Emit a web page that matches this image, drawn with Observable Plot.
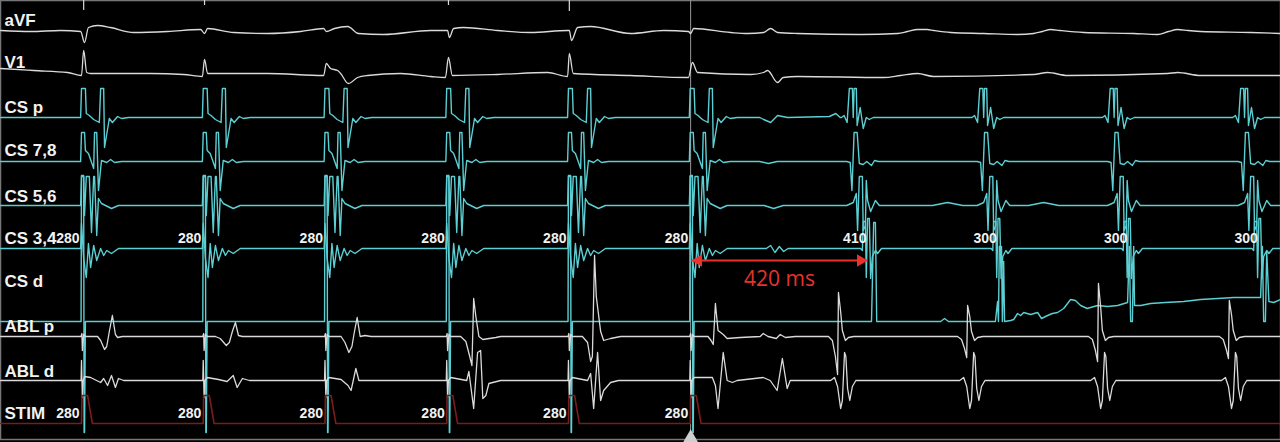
<!DOCTYPE html>
<html><head><meta charset="utf-8">
<script src="https://cdn.jsdelivr.net/npm/d3@7"></script>
<script src="https://cdn.jsdelivr.net/npm/@observablehq/plot@0.6"></script>
<style>html,body{margin:0;padding:0;background:#000;overflow:hidden}</style>
</head><body><div id="chart"></div>
<script>
// ================= DATA (time in ms from first paced beat; amplitudes in display units, up = positive) =================
const channels = ["aVF","V1","CS p","CS 7,8","CS 5,6","CS 3,4","CS d","ABL p","ABL d","STIM"];
const pacedTimes = [0, 280, 560, 840, 1120, 1400];
const spontTimes = [1810, 2110, 2410, 2710];             // CS 3,4 activation of spontaneous beats
const intervalTimes = [0, 280, 560, 840, 1120, 1400, 1810, 2110, 2410, 2710];
const intervalLabels = ["280","280","280","280","280","280","410","300","300","300"];
const stimLabels = ["280","280","280","280","280","280"];
const recordStart = -186, recordEnd = 2758;
const cursorTime = 1401;
const caliperStart = 1403, caliperEnd = 1808, caliperLabel = "420 ms";
const topTickTimes = [5, 283, 844, 1122];
const topTickDepth = [10, 5, 5, 11];

// surface ECG
const aVF = [[-186,1],[-117,0],[-48,1],[-2,0],[7,-11],[16,4],[37,6],[67,4],[120,-1],[198,0],[274,2],[283,-2],[290,3],[350,-1],[428,-2],[504,0],[557,3],[563,0],[582,3],[612,5],[637,-2],[695,-3],[803,1],[842,1],[846,-6],[856,3],[879,4],[957,1],[1033,-1],[1118,1],[1122,1],[1127,-9],[1141,4],[1171,5],[1263,-2],[1339,1],[1396,0],[1401,-2],[1408,3],[1493,-1],[1532,-2],[1569,-1],[1585,3],[1601,-1],[1647,-2],[1792,-3],[1877,-2],[1900,0],[1923,2],[1945,2],[1960,1],[1999,-1],[2075,-2],[2153,-3],[2190,-2],[2210,0],[2229,2],[2250,1],[2305,-1],[2420,-2],[2475,-3],[2500,0],[2521,2],[2545,1],[2574,0],[2689,-1],[2758,-2]];
const V1 = [[-186,5],[-110,3],[-32,1],[0,-2],[5,23],[12,1],[21,0],[159,0],[235,-1],[278,-3],[283,14],[290,0],[428,0],[557,-2],[563,10],[573,5],[589,3],[596,0],[614,-10],[635,-4],[658,-2],[734,0],[803,-3],[837,-4],[844,16],[853,-2],[957,-1],[1072,1],[1118,-3],[1122,20],[1131,0],[1263,-2],[1396,-4],[1405,11],[1417,1],[1539,-1],[1569,1],[1578,3],[1601,-9],[1614,-4],[1647,-3],[1845,-4],[1884,-2],[1923,0],[1960,-3],[2190,-1],[2222,1],[2268,-2],[2498,0],[2521,1],[2574,-2],[2758,-2]];

// coronary sinus complexes: [dt, amplitude]
const csP_paced  = [[-2,0],[0,29],[9,29],[11,4],[18,2],[28,-2],[41,-5],[44,29],[51,29],[53,-30],[64,-1],[71,-5],[83,1],[92,-1],[108,0]];
const cs78_paced = [[-2,0],[0,29],[7,29],[9,11],[16,8],[28,-7],[30,29],[35,29],[39,-29],[46,1],[58,-1],[67,2],[76,-1],[92,0]];
const cs56_paced = [[-2,0],[0,29],[5,29],[7,-10],[11,29],[18,29],[23,-27],[28,29],[30,29],[35,-30],[39,7],[46,2],[69,-3],[85,0]];
const cs34_paced = [[-2,0],[0,25],[5,-10],[11,-29],[16,5],[21,-19],[28,3],[35,-12],[44,0],[51,-7],[58,-2],[69,-5],[85,0]];
const csD_paced  = [[-1,0],[0,146],[5,146],[6,-111],[7,-111],[9,0]];
const csP_spont  = [[-62,0],[-56,2],[-49,-5],[-44,29],[-37,29],[-35,0],[-33,29],[-28,29],[-26,-8],[-19,10],[-12,-11],[-5,0],[2,-2],[11,0]];
const cs78_spont = [[-50,0],[-42,-1],[-38,-29],[-33,29],[-26,29],[-21,-2],[-12,-3],[-4,0],[7,-4],[14,1],[23,0]];
const cs56_spont = [[-50,0],[-35,3],[-28,12],[-25,-25],[-21,29],[-14,29],[-12,-25],[-7,-20],[-5,25],[-2,5],[5,-6],[16,5],[25,0]];
const cs34_spont = [[-18,0],[-14,-2],[-12,27],[-7,27],[-5,-29],[-2,30],[2,30],[5,-30],[9,-8],[16,-2],[21,-5],[30,0]];
const csD_spont  = [[1817,0],[1822,99],[1826,99],[1829,0],[1976,0],[1985,3],[1994,0],[2102,0],[2107,20],[2109,0],[2111,75],[2116,75],[2118,0],[2121,60],[2123,0],[2410,75],[2413,0],[2417,0],[2420,75],[2422,16],[2716,75],[2719,0],[2723,0],[2726,70],[2731,20]];
const csD_wander = [[2137,1],[2144,2],[2153,8],[2160,6],[2167,9],[2183,7],[2199,9],[2208,3],[2222,6],[2233,8],[2245,9],[2259,13],[2275,22],[2286,21],[2298,16],[2313,13],[2337,16],[2360,15],[2383,16],[2406,19],[2436,16],[2459,18],[2493,19],[2535,20],[2574,22],[2613,23],[2650,24],[2689,24],[2712,24],[2742,19],[2758,22]];
const csP_wander  = [[1560,0],[1569,-2],[1585,-5],[1601,2],[1624,0],[1720,1],[1735,4],[1745,0]];
const cs78_wander = [[1560,0],[1580,-2],[1600,0]];
const cs56_wander = [[1570,0],[1592,-3],[1614,0],[1957,0],[1992,3],[2027,0],[2178,0],[2213,3],[2248,0]];
const cs34_wander = [[1575,0],[1585,3],[1595,-4],[1605,2],[1615,-3],[1625,0]];

// ablation catheter
const ablP_artifact = [[-1,0],[1,3],[2,-14],[5,2],[9,0]];
const ablD_artifact = [[-1,0],[0,20],[2,-17],[4,0]];
const ablP_paced = [
  [[37,0],[44,-4],[53,-13],[58,-10],[64,5],[71,21],[78,2],[83,-1],[94,0]],
  [[28,0],[39,-2],[53,-9],[60,-6],[67,5],[74,14],[81,1],[90,0]],
  [[37,0],[46,-6],[55,-16],[62,-10],[67,3],[74,19],[81,0],[92,1],[106,0]],
  [[32,0],[44,-5],[53,-20],[58,-29],[62,38],[67,20],[74,0],[83,-3],[113,-1],[124,0]],
  [[32,0],[44,-6],[51,-25],[55,-20],[60,81],[64,40],[74,5],[81,-4],[97,-2],[120,0]],
  [[41,0],[48,-4],[53,-8],[58,33],[64,6],[76,2],[85,-2],[115,-1],[161,0],[168,3],[179,0],[198,-2],[207,2],[219,-1],[242,0]]
];
const ablD_paced = [
  [[7,4],[21,3],[44,-2],[51,2],[60,-5],[69,5],[78,-7],[85,2],[97,0]],
  [[9,3],[35,1],[55,-1],[69,5],[78,-7],[90,2],[106,0]],
  [[9,3],[37,1],[53,-5],[60,-10],[71,12],[78,0],[92,0]],
  [[9,3],[46,0],[51,9],[62,-28],[71,28],[78,30],[83,-18],[90,-15],[97,-3],[124,0]],
  [[9,3],[44,0],[51,7],[58,-28],[67,28],[74,-20],[81,-10],[97,-2],[115,0]],
  [[9,3],[51,3],[58,-5],[64,-28],[76,28],[85,0],[97,-2],[108,0],[168,3],[184,0],[200,-10],[212,22],[223,-8],[230,0]]
];
const ablSpikeTimes = [1741, 2038, 2339, 2640];
const ablP_spont = [
  [[-23,0],[-14,-4],[-7,-20],[-2,-38],[0,44],[5,25],[9,6],[16,-4],[23,-1],[35,0]],
  [[-23,0],[-14,-3],[-7,-12],[-2,-21],[0,31],[5,20],[9,5],[16,-4],[23,-1],[35,0]],
  [[-23,0],[-14,-3],[-7,-14],[-2,-25],[0,53],[5,30],[9,6],[16,-4],[23,-1],[35,0]],
  [[-23,0],[-14,-3],[-7,-13],[-2,-22],[0,36],[5,22],[9,6],[16,-4],[23,-1],[35,0]]
];
const ablD_spont = [[-18,0],[-9,3],[-2,-6],[5,-28],[9,-20],[14,28],[17,24],[21,-8],[26,-20],[32,-6],[40,0]];
const stimPulse = [[0,0],[1,28],[14,28],[25,0]];

// ================= LAYOUT / STYLE =================
const rowY   = {"aVF":31,"V1":73,"CS p":117,"CS 7,8":161,"CS 5,6":205,"CS 3,4":248,"CS d":321,"ABL p":336,"ABL d":380,"STIM":423};
const labelY = {"aVF":20,"V1":62,"CS p":107,"CS 7,8":150,"CS 5,6":196,"CS 3,4":238,"CS d":281,"ABL p":326,"ABL d":371,"STIM":413};
const caliperY = 260, caliperTextY = 279;
const CYAN = "#5bcfd3", WHITE = "#dadada", STIMRED = "#7a1c1c", RED = "#e8322b";
const FONT = "'Liberation Sans', Arial, sans-serif";

// ================= BUILD =================
const at = (times, tpl) => times.flatMap(t0 => tpl.map(([dt, a]) => [t0 + dt, a]));
const atEach = (times, tpls) => times.flatMap((t0, i) => tpls[i].map(([dt, a]) => [t0 + dt, a]));
const ends = [[recordStart, 0], [recordEnd, 0]];
function trace(name, pts) {
  return pts.slice().sort((a, b) => a[0] - b[0]).map(([t, a]) => ({channel: name, t, a}));
}
const cyanTraces = [
  ...trace("CS p",   [...ends, ...at(pacedTimes, csP_paced),  ...at(spontTimes, csP_spont),  ...csP_wander]),
  ...trace("CS 7,8", [...ends, ...at(pacedTimes, cs78_paced), ...at(spontTimes, cs78_spont), ...cs78_wander]),
  ...trace("CS 5,6", [...ends, ...at(pacedTimes, cs56_paced), ...at(spontTimes, cs56_spont), ...cs56_wander]),
  ...trace("CS 3,4", [...ends, ...at(pacedTimes, cs34_paced), ...at(spontTimes, cs34_spont), ...cs34_wander]),
  ...trace("CS d",   [[recordStart, 0], ...at(pacedTimes, csD_paced), ...csD_spont, ...csD_wander])
];
const ablTraces = [
  ...trace("ABL p", [...ends, ...at(pacedTimes, ablP_artifact), ...atEach(pacedTimes, ablP_paced), ...atEach(ablSpikeTimes, ablP_spont)]),
  ...trace("ABL d", [...ends, ...at(pacedTimes, ablD_artifact), ...atEach(pacedTimes, ablD_paced), ...at(ablSpikeTimes, ablD_spont)])
];
const ecgTraces = [...trace("aVF", aVF), ...trace("V1", V1)];
const stimTrace = trace("STIM", [...ends, ...at(pacedTimes, stimPulse)]);
const Y = d => rowY[d.channel] - d.a;

const intervalData = intervalTimes.map((t, i) => ({t, label: intervalLabels[i]}));
const stimLabelData = pacedTimes.map((t, i) => ({t, label: stimLabels[i]}));
const topTicks = topTickTimes.map((t, i) => ({t, depth: topTickDepth[i]}));
const caliper = [{start: caliperStart, end: caliperEnd, label: caliperLabel}];

const chart = Plot.plot({
  width: 1280, height: 442, margin: 0,
  x: {domain: [recordStart - 0.3, recordEnd - 0.3], axis: null},
  y: {domain: [0, 442], range: [0, 442], axis: null},
  style: {background: "#000", overflow: "hidden"},
  marks: [
    Plot.frame({stroke: "#777", strokeWidth: 1.5, insetBottom: 3}),
    Plot.ruleX([cursorTime], {x: d => d, y1: 0, y2: 432, stroke: "#9a9a9a", strokeWidth: 1}),
    Plot.ruleX(topTicks, {x: "t", y1: 0, y2: "depth", stroke: WHITE, strokeWidth: 1.2}),
    Plot.line(cyanTraces, {x: "t", y: Y, z: "channel", stroke: CYAN, strokeWidth: 1.4, strokeLinejoin: "round"}),
    Plot.line(ablTraces, {x: "t", y: Y, z: "channel", stroke: WHITE, strokeWidth: 1.3, strokeLinejoin: "round"}),
    Plot.line(ecgTraces, {x: "t", y: Y, z: "channel", stroke: WHITE, strokeWidth: 1.3, curve: "monotone-x"}),
    Plot.line(stimTrace, {x: "t", y: Y, stroke: STIMRED, strokeWidth: 1.6}),
    Plot.dot([cursorTime], {x: d => d, frameAnchor: "bottom", dy: -4.5, symbol: "triangle", r: 5.6, fill: "#cfcfcf", stroke: null}),
    Plot.text(channels, {text: d => d, y: d => labelY[d], frameAnchor: "left", dx: 4, textAnchor: "start",
      fill: "#f2f2f2", fontWeight: "bold", fontSize: 17, fontFamily: FONT}),
    Plot.text(intervalData, {x: "t", y: () => labelY["CS 3,4"], text: "label", textAnchor: "end", dx: -2,
      fill: "#f2f2f2", fontWeight: "bold", fontSize: 14, fontFamily: FONT}),
    Plot.text(stimLabelData, {x: "t", y: () => labelY["STIM"], text: "label", textAnchor: "end", dx: -2,
      fill: "#f2f2f2", fontWeight: "bold", fontSize: 14, fontFamily: FONT}),
    Plot.ruleY(caliper, {y: () => caliperY, x1: "start", x2: "end", stroke: RED, strokeWidth: 2}),
    Plot.dot(caliper, {x: "start", y: () => caliperY, dx: 7, symbol: "triangle", rotate: -90, r: 4.6, fill: RED, stroke: null}),
    Plot.dot(caliper, {x: "end", y: () => caliperY, dx: -7, symbol: "triangle", rotate: 90, r: 4.6, fill: RED, stroke: null}),
    Plot.text(caliper, {x: d => (d.start + d.end) / 2, y: () => caliperTextY, text: "label", fill: RED,
      fontSize: 21, fontFamily: "'Open Sans', sans-serif"})
  ]
});
document.getElementById("chart").appendChild(chart);
</script>
</body></html>
